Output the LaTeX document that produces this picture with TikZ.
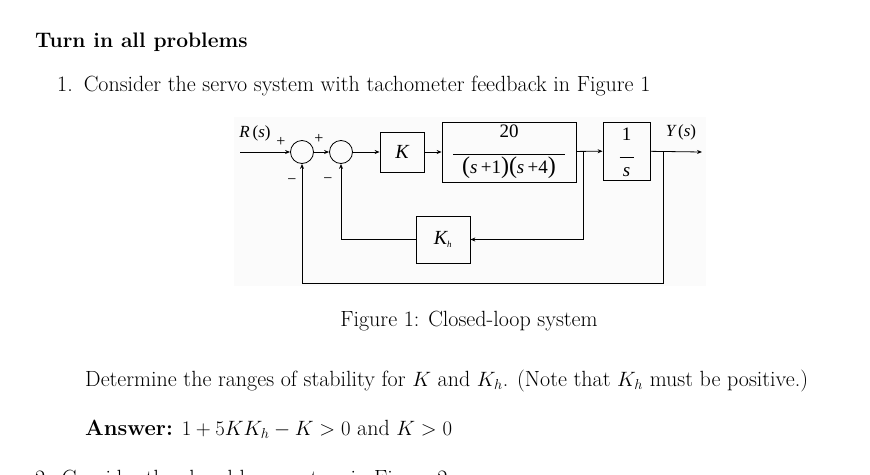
\documentclass[tikz,border=0pt]{standalone}
\usepackage{fontspec}
\newfontfamily\tms{Liberation Serif}
\usetikzlibrary{arrows.meta}
\begin{document}
\begin{tikzpicture}[x=1pt,y=-1pt,
  blk/.style={draw,line width=0.8pt,inner sep=0pt},
  sumj/.style={draw,circle,line width=0.8pt,minimum size=23pt,inner sep=0pt},
  sig/.style={line width=0.8pt,-{Stealth[length=5pt,width=4pt]}},
  txt/.style={anchor=west,inner sep=0pt,font=\fontsize{22}{26}\selectfont},
  dl/.style={inner sep=0pt,font=\tms\fontsize{16}{18}\selectfont}]
\useasboundingbox (0,0) rectangle (870,474);
\clip (0,0) rectangle (870,474);
\fill[gray!3] (234,117) rectangle (706,286);
\node[txt,font=\fontsize{21}{24}\selectfont\bfseries] (t1) at (35,42) {Turn in all problems};
\node[txt] (t2) at (57,86) {1.\hspace{0.5em}Consider the servo system with tachometer feedback in Figure 1};
\node[txt,anchor=center] (cap) at (469,321) {Figure 1: Closed-loop system};
\node[txt] (t3) at (85,381) {Determine the ranges of stability for $K$ and $K_h$. (Note that $K_h$ must be positive.)};
\node[txt] (t4) at (85,429) {\textbf{Answer:} $1+5KK_h-K>0$ and $K>0$};
\node[txt] (t5) at (35,480) {2.\hspace{0.5em}Consider the closed-loop system in Figure 2};
% diagram
\coordinate (in) at (240,152);
\node[sumj] (s1) at (302,152) {};
\node[sumj] (s2) at (341,152) {};
\node[blk,minimum width=44pt,minimum height=40pt,font=\tms\itshape\fontsize{20}{22}\selectfont] (k) at (402,152) {K};
\node[blk,minimum width=134pt,minimum height=60pt] (g) at (509,152) {};
\node[dl,font=\tms\fontsize{19}{21}\selectfont,align=center] (gt) at (509,152) {20\\[-4pt]\rule{112pt}{0.6pt}\\[-2pt]{\fontsize{24}{24}\selectfont(}\textit{s}\,+1{\fontsize{24}{24}\selectfont)(}\textit{s}\,+4{\fontsize{24}{24}\selectfont)}};
\node[blk,minimum width=47pt,minimum height=58pt] (i) at (626.5,151) {};
\node[dl,font=\tms\fontsize{19}{21}\selectfont,align=center] (it) at (626.5,152) {1\\[-4pt]\rule{14pt}{0.6pt}\\[-2pt]\textit{s}};
\node[blk,minimum width=54pt,minimum height=47pt,font=\tms\itshape\fontsize{20}{22}\selectfont] (kh) at (443,239.5) {K\textsubscript{\fontsize{9}{9}\selectfont h}};
\coordinate (out) at (702,152);
\coordinate (b1) at (583,152);
\coordinate (b2) at (663,152);
\draw[sig] (in) -- (s1);
\draw[sig] (s1) -- (s2);
\draw[sig] (s2) -- (k);
\draw[sig] (k) -- (g);
\draw[sig] (g) -- (i);
\draw[sig] (i) -- (out);
\draw[sig] (b1) |- (kh);
\draw[sig] (kh) -| (s2);
\draw[sig] (b2) |- (302,283) -- (s1);
\node[dl,font=\tms\itshape\fontsize{17}{18}\selectfont] (r) at (255,133) {R\,\upshape(\itshape s\upshape)};
\node[dl,font=\tms\itshape\fontsize{17}{18}\selectfont] (y) at (681,132) {Y\,\upshape(\itshape s\upshape)};
\node[dl] (p1) at (281,142) {+};
\node[dl] (p2) at (319,139) {+};
\node[dl] (m1) at (292,182) {\textminus};
\node[dl] (m2) at (328,181) {\textminus};
\end{tikzpicture}
\end{document}
